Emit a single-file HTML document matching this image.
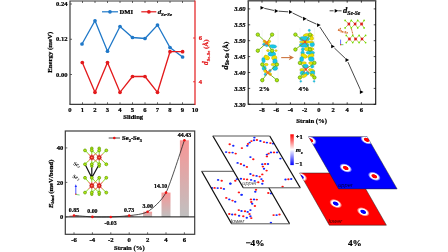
<!DOCTYPE html>
<html><head><meta charset="utf-8"><title>figure</title>
<style>html,body{margin:0;padding:0;background:#fff;}svg{display:block;filter:blur(0.3px);}text{stroke-width:0.22px;}</style>
</head><body>
<svg width="448" height="252" viewBox="0 0 448 252" style="font-family:'Liberation Serif',serif;font-weight:bold">
<defs>
<linearGradient id="bar" x1="0" y1="0" x2="0" y2="1"><stop offset="0" stop-color="#f79696"/><stop offset="1" stop-color="#c0c0c0"/></linearGradient>
<linearGradient id="cb" x1="0" y1="0" x2="0" y2="1"><stop offset="0" stop-color="#ff0000"/><stop offset="0.5" stop-color="#ffffff"/><stop offset="1" stop-color="#0000ff"/></linearGradient>
<radialGradient id="skR"><stop offset="0" stop-color="#ff0000"/><stop offset="0.36" stop-color="#ff0000"/><stop offset="0.52" stop-color="#ffffff"/><stop offset="0.64" stop-color="#ffffff"/><stop offset="1" stop-color="#ffffff" stop-opacity="0"/></radialGradient>
<radialGradient id="skB"><stop offset="0" stop-color="#0000ff"/><stop offset="0.36" stop-color="#0000ff"/><stop offset="0.52" stop-color="#ffffff"/><stop offset="0.64" stop-color="#ffffff"/><stop offset="1" stop-color="#ffffff" stop-opacity="0"/></radialGradient>
<clipPath id="clipBlue"><polygon points="308.6,136.7 367.1,136.7 397.1,188.9 338.6,188.9"/></clipPath>
<clipPath id="clipRed"><polygon points="299.6,173 356.6,173 386.4,225.2 329.3,225.2"/></clipPath>
</defs>
<rect width="448" height="252" fill="#fff"/>
<g id="panelA">
<path d="M70,104.3 L70,1 L195,1" fill="none" stroke="#3c3c3c" stroke-width="1.2"/>
<path d="M69.4,104.3 L195,104.3" fill="none" stroke="#3c3c3c" stroke-width="1.2"/>
<path d="M195,0.4 L195,104.89999999999999" fill="none" stroke="#e31a1c" stroke-width="1.2"/>
<path d="M82.5,104.3 v-2 M82.5,1 v2 M95.0,104.3 v-2 M95.0,1 v2 M107.5,104.3 v-2 M107.5,1 v2 M120.0,104.3 v-2 M120.0,1 v2 M132.5,104.3 v-2 M132.5,1 v2 M145.0,104.3 v-2 M145.0,1 v2 M157.5,104.3 v-2 M157.5,1 v2 M170.0,104.3 v-2 M170.0,1 v2 M182.5,104.3 v-2 M182.5,1 v2 M70,4 h2 M70,39.25 h2 M70,74.5 h2 " stroke="#3c3c3c" stroke-width="0.8" fill="none"/>
<path d="M195,38 h-2 M195,81.75 h-2" stroke="#e31a1c" stroke-width="0.8" fill="none"/>
<text x="67.6" y="6.2" font-size="6.6" text-anchor="end" fill="#000"  stroke="#000">0.24</text>
<text x="67.6" y="41.45" font-size="6.6" text-anchor="end" fill="#000"  stroke="#000">0.12</text>
<text x="67.6" y="76.7" font-size="6.6" text-anchor="end" fill="#000"  stroke="#000">0.00</text>
<text x="70.0" y="112" font-size="6.6" text-anchor="middle" fill="#000"  stroke="#000">0</text>
<text x="82.5" y="112" font-size="6.6" text-anchor="middle" fill="#000"  stroke="#000">1</text>
<text x="95.0" y="112" font-size="6.6" text-anchor="middle" fill="#000"  stroke="#000">2</text>
<text x="107.5" y="112" font-size="6.6" text-anchor="middle" fill="#000"  stroke="#000">3</text>
<text x="120.0" y="112" font-size="6.6" text-anchor="middle" fill="#000"  stroke="#000">4</text>
<text x="132.5" y="112" font-size="6.6" text-anchor="middle" fill="#000"  stroke="#000">5</text>
<text x="145.0" y="112" font-size="6.6" text-anchor="middle" fill="#000"  stroke="#000">6</text>
<text x="157.5" y="112" font-size="6.6" text-anchor="middle" fill="#000"  stroke="#000">7</text>
<text x="170.0" y="112" font-size="6.6" text-anchor="middle" fill="#000"  stroke="#000">8</text>
<text x="182.5" y="112" font-size="6.6" text-anchor="middle" fill="#000"  stroke="#000">9</text>
<text x="195.0" y="112" font-size="6.6" text-anchor="middle" fill="#000"  stroke="#000">10</text>
<text x="133.2" y="119.4" font-size="6.6" text-anchor="middle" fill="#000"  stroke="#000">Sliding</text>
<text x="0" y="0" font-size="6.8" text-anchor="middle" fill="#000" transform="translate(51.6,52.3) rotate(-90)" stroke="#000">Energy (meV)</text>
<text x="200.3" y="40.2" font-size="6.6" text-anchor="middle" fill="#e31a1c"  stroke="#e31a1c">6</text>
<text x="200.3" y="84" font-size="6.6" text-anchor="middle" fill="#e31a1c"  stroke="#e31a1c">4</text>
<text font-size="7.2" text-anchor="middle" fill="#e31a1c" transform="translate(208.3,52.1) rotate(-90)" stroke="#e31a1c"><tspan font-style="italic">d</tspan><tspan font-size="4.5" dy="1.3">Se-Se</tspan><tspan dy="-1.3" font-size="7"> (Å)</tspan></text>
<polyline points="82,44 95,20.75 107.5,51.25 120,26.5 132.5,37.5 145,38.5 157.5,25 170,47.5 182.6,57" fill="none" stroke="#1f78c8" stroke-width="1.3"/>
<circle cx="82" cy="44" r="1.85" fill="#1f78c8"/>
<circle cx="95" cy="20.75" r="1.85" fill="#1f78c8"/>
<circle cx="107.5" cy="51.25" r="1.85" fill="#1f78c8"/>
<circle cx="120" cy="26.5" r="1.85" fill="#1f78c8"/>
<circle cx="132.5" cy="37.5" r="1.85" fill="#1f78c8"/>
<circle cx="145" cy="38.5" r="1.85" fill="#1f78c8"/>
<circle cx="157.5" cy="25" r="1.85" fill="#1f78c8"/>
<circle cx="170" cy="47.5" r="1.85" fill="#1f78c8"/>
<circle cx="182.6" cy="57" r="1.85" fill="#1f78c8"/>
<polyline points="82.3,62.5 95,92.3 107.5,62.5 120,92.3 132.5,76.5 145,76.5 157.5,92.3 170,51.7 182.6,51.7" fill="none" stroke="#e31a1c" stroke-width="1.3"/>
<circle cx="82.3" cy="62.5" r="1.85" fill="#e31a1c"/>
<circle cx="95" cy="92.3" r="1.85" fill="#e31a1c"/>
<circle cx="107.5" cy="62.5" r="1.85" fill="#e31a1c"/>
<circle cx="120" cy="92.3" r="1.85" fill="#e31a1c"/>
<circle cx="132.5" cy="76.5" r="1.85" fill="#e31a1c"/>
<circle cx="145" cy="76.5" r="1.85" fill="#e31a1c"/>
<circle cx="157.5" cy="92.3" r="1.85" fill="#e31a1c"/>
<circle cx="170" cy="51.7" r="1.85" fill="#e31a1c"/>
<circle cx="182.6" cy="51.7" r="1.85" fill="#e31a1c"/>
<path d="M102,11.8 H118" stroke="#1f78c8" stroke-width="1.2"/><circle cx="110" cy="11.8" r="1.85" fill="#1f78c8"/>
<text x="119.6" y="13.9" font-size="6.6" text-anchor="start" fill="#000"  stroke="#000">DMI</text>
<path d="M141.3,11.8 H156.3" stroke="#e31a1c" stroke-width="1.2"/><circle cx="148.9" cy="11.8" r="1.85" fill="#e31a1c"/>
<text x="157.7" y="14" font-size="6.8" text-anchor="start" stroke="#000"><tspan font-style="italic">d</tspan><tspan font-size="4.7" dy="1.6" font-style="italic">Se-Se</tspan></text>
</g>
<g id="panelB">
<path d="M248.2,0.7 V104.3 H375.7 V0.7" fill="none" stroke="#111" stroke-width="1.1"/>
<path d="M247.64999999999998,0.7 H376.25" fill="none" stroke="#555" stroke-width="1.4"/>
<path d="M248.2,8.9 h2 M375.7,8.9 h-2 M248.2,24.8 h2 M375.7,24.8 h-2 M248.2,40.7 h2 M375.7,40.7 h-2 M248.2,56.6 h2 M375.7,56.6 h-2 M248.2,72.5 h2 M375.7,72.5 h-2 M248.2,88.4 h2 M375.7,88.4 h-2 M248.2,104.30000000000001 h2 M375.7,104.30000000000001 h-2 M262.0,104.3 v-2 M262.0,0.7 v2 M276.2,104.3 v-2 M276.2,0.7 v2 M290.4,104.3 v-2 M290.4,0.7 v2 M304.6,104.3 v-2 M304.6,0.7 v2 M318.8,104.3 v-2 M318.8,0.7 v2 M333.0,104.3 v-2 M333.0,0.7 v2 M347.2,104.3 v-2 M347.2,0.7 v2 M361.4,104.3 v-2 M361.4,0.7 v2 " stroke="#000" stroke-width="0.7" fill="none"/>
<text x="245.6" y="11.100000000000001" font-size="6.5" text-anchor="end" fill="#000" font-style="italic" stroke="#000">3.60</text>
<text x="245.6" y="27.0" font-size="6.5" text-anchor="end" fill="#000" font-style="italic" stroke="#000">3.55</text>
<text x="245.6" y="42.900000000000006" font-size="6.5" text-anchor="end" fill="#000" font-style="italic" stroke="#000">3.50</text>
<text x="245.6" y="58.800000000000004" font-size="6.5" text-anchor="end" fill="#000" font-style="italic" stroke="#000">3.45</text>
<text x="245.6" y="74.7" font-size="6.5" text-anchor="end" fill="#000" font-style="italic" stroke="#000">3.40</text>
<text x="245.6" y="90.60000000000001" font-size="6.5" text-anchor="end" fill="#000" font-style="italic" stroke="#000">3.35</text>
<text x="245.6" y="106.50000000000001" font-size="6.5" text-anchor="end" fill="#000" font-style="italic" stroke="#000">3.30</text>
<text x="262.0" y="112.3" font-size="6.5" text-anchor="middle" fill="#000"  stroke="#000">-8</text>
<text x="276.2" y="112.3" font-size="6.5" text-anchor="middle" fill="#000"  stroke="#000">-6</text>
<text x="290.4" y="112.3" font-size="6.5" text-anchor="middle" fill="#000"  stroke="#000">-4</text>
<text x="304.6" y="112.3" font-size="6.5" text-anchor="middle" fill="#000"  stroke="#000">-2</text>
<text x="318.8" y="112.3" font-size="6.5" text-anchor="middle" fill="#000"  stroke="#000">0</text>
<text x="333.0" y="112.3" font-size="6.5" text-anchor="middle" fill="#000"  stroke="#000">2</text>
<text x="347.2" y="112.3" font-size="6.5" text-anchor="middle" fill="#000"  stroke="#000">4</text>
<text x="361.4" y="112.3" font-size="6.5" text-anchor="middle" fill="#000"  stroke="#000">6</text>
<text x="311.6" y="122.7" font-size="6.7" text-anchor="middle" fill="#000"  stroke="#000">Strain (%)</text>
<text font-size="8.4" text-anchor="middle" transform="translate(227.6,55.6) rotate(-90)" stroke="#000"><tspan font-style="italic">d</tspan><tspan font-size="5.2" dy="1.6">Se-Se</tspan><tspan dy="-1.6" font-size="7"> (Å)</tspan></text>
<path d="M264.24,8.30 L274.06,10.50 M278.59,11.16 L288.21,11.84 M292.57,12.99 L302.53,17.76 M306.69,19.70 L316.51,24.15 M319.87,27.02 L331.43,44.48 M334.37,47.99 L345.33,58.41 M347.94,62.10 L360.46,89.90 " fill="none" stroke="#333" stroke-width="0.9"/>
<polygon points="260.48,5.9 264.09,7.8 260.48,9.7" fill="#000"/>
<polygon points="274.78000000000003,9.1 278.39,11 274.78000000000003,12.9" fill="#000"/>
<polygon points="288.98,10.1 292.59,12 288.98,13.9" fill="#000"/>
<polygon points="303.08000000000004,16.85 306.69,18.75 303.08000000000004,20.65" fill="#000"/>
<polygon points="317.08000000000004,23.200000000000003 320.69,25.1 317.08000000000004,27.0" fill="#000"/>
<polygon points="331.18,44.5 334.78999999999996,46.4 331.18,48.3" fill="#000"/>
<polygon points="345.48,58.1 349.09,60 345.48,61.9" fill="#000"/>
<polygon points="359.88,90.1 363.48999999999995,92 359.88,93.9" fill="#000"/>
<path d="M329.6,10.8 H333.6 M338.2,10.8 H341.6" stroke="#333" stroke-width="0.9"/>
<polygon points="334.68,8.9 338.28999999999996,10.8 334.68,12.700000000000001" fill="#000"/>
<text x="343" y="13.3" font-size="8.6" text-anchor="start" stroke="#000"><tspan font-style="italic">d</tspan><tspan font-size="5.6" dy="1.6" font-style="italic">Se-Se</tspan></text>
<path d="M262.2,30 V84 M278.1,30 V84" stroke="#ececec" stroke-width="0.5"/>
<path d="M299.9,28 V84 M314.5,28 V84" stroke="#ececec" stroke-width="0.5"/>
<ellipse cx="264.8" cy="41.7" rx="1.79" ry="1.38" fill="#f2e400" stroke="#a89c00" stroke-width="0.4" transform="rotate(30 264.8 41.7)"/>
<ellipse cx="269.2" cy="41.7" rx="1.68" ry="1.26" fill="#f2e400" stroke="#a89c00" stroke-width="0.4" transform="rotate(-30 269.2 41.7)"/>
<ellipse cx="268" cy="44.3" rx="1.79" ry="1.26" fill="#f2e400" stroke="#a89c00" stroke-width="0.4" transform="rotate(30 268 44.3)"/>
<ellipse cx="264.2" cy="44.4" rx="1.57" ry="1.26" fill="#18c8e6" stroke="#0c9cc0" stroke-width="0.4" transform="rotate(0 264.2 44.4)"/>
<ellipse cx="266.7" cy="45.6" rx="1.34" ry="1.03" fill="#18c8e6" stroke="#0c9cc0" stroke-width="0.4" transform="rotate(0 266.7 45.6)"/>
<ellipse cx="273" cy="46.4" rx="3.70" ry="1.72" fill="#18c8e6" stroke="#0c9cc0" stroke-width="0.4" transform="rotate(5 273 46.4)"/>
<ellipse cx="268" cy="50.6" rx="1.46" ry="1.03" fill="#f2e400" stroke="#a89c00" stroke-width="0.4" transform="rotate(0 268 50.6)"/>
<ellipse cx="276" cy="50.6" rx="1.23" ry="0.92" fill="#f2e400" stroke="#a89c00" stroke-width="0.4" transform="rotate(0 276 50.6)"/>
<ellipse cx="271.8" cy="54" rx="3.92" ry="2.18" fill="#18c8e6" stroke="#0c9cc0" stroke-width="0.4" transform="rotate(0 271.8 54)"/>
<ellipse cx="266.7" cy="57.6" rx="3.02" ry="2.07" fill="#f2e400" stroke="#a89c00" stroke-width="0.4" transform="rotate(30 266.7 57.6)"/>
<ellipse cx="274.3" cy="57.8" rx="2.69" ry="2.18" fill="#f2e400" stroke="#a89c00" stroke-width="0.4" transform="rotate(-20 274.3 57.8)"/>
<ellipse cx="263.5" cy="60.2" rx="1.68" ry="2.64" fill="#18c8e6" stroke="#0c9cc0" stroke-width="0.4" transform="rotate(-10 263.5 60.2)"/>
<ellipse cx="275" cy="61.3" rx="2.24" ry="2.53" fill="#18c8e6" stroke="#0c9cc0" stroke-width="0.4" transform="rotate(10 275 61.3)"/>
<ellipse cx="266.2" cy="64.6" rx="1.90" ry="1.26" fill="#f2e400" stroke="#a89c00" stroke-width="0.4" transform="rotate(0 266.2 64.6)"/>
<ellipse cx="273" cy="64.6" rx="1.90" ry="1.26" fill="#f2e400" stroke="#a89c00" stroke-width="0.4" transform="rotate(0 273 64.6)"/>
<ellipse cx="264.2" cy="68.2" rx="2.02" ry="2.30" fill="#18c8e6" stroke="#0c9cc0" stroke-width="0.4" transform="rotate(0 264.2 68.2)"/>
<ellipse cx="275" cy="68.2" rx="2.58" ry="2.18" fill="#18c8e6" stroke="#0c9cc0" stroke-width="0.4" transform="rotate(0 275 68.2)"/>
<ellipse cx="265.4" cy="71.3" rx="1.79" ry="1.38" fill="#f2e400" stroke="#a89c00" stroke-width="0.4" transform="rotate(30 265.4 71.3)"/>
<ellipse cx="269.9" cy="73.9" rx="1.79" ry="1.38" fill="#f2e400" stroke="#a89c00" stroke-width="0.4" transform="rotate(30 269.9 73.9)"/>
<ellipse cx="265.4" cy="74.5" rx="1.34" ry="1.15" fill="#18c8e6" stroke="#0c9cc0" stroke-width="0.4" transform="rotate(0 265.4 74.5)"/>
<ellipse cx="270" cy="70.7" rx="1.34" ry="1.15" fill="#18c8e6" stroke="#0c9cc0" stroke-width="0.4" transform="rotate(0 270 70.7)"/>
<path d="M266.7,43 L263.32,39.81" stroke="#e8401a" stroke-width="0.8"/><path d="M263.32,39.81 L257.8,34.6" stroke="#6cbc00" stroke-width="0.9"/>
<path d="M266.7,43 L268.75,39.81" stroke="#e8401a" stroke-width="0.8"/><path d="M268.75,39.81 L272.1,34.6" stroke="#6cbc00" stroke-width="0.9"/>
<path d="M266.7,43 L263.32,45.93" stroke="#e8401a" stroke-width="0.8"/><path d="M263.32,45.93 L257.8,50.7" stroke="#6cbc00" stroke-width="0.9"/>
<path d="M266.7,43 L268.75,45.93" stroke="#e8401a" stroke-width="0.8"/><path d="M268.75,45.93 L272.1,50.7" stroke="#6cbc00" stroke-width="0.9"/>
<path d="M267.8,72.6 L265.71,69.52" stroke="#e8401a" stroke-width="0.8"/><path d="M265.71,69.52 L262.3,64.5" stroke="#6cbc00" stroke-width="0.9"/>
<path d="M267.8,72.6 L271.26,69.52" stroke="#e8401a" stroke-width="0.8"/><path d="M271.26,69.52 L276.9,64.5" stroke="#6cbc00" stroke-width="0.9"/>
<path d="M267.8,72.6 L265.71,75.49" stroke="#e8401a" stroke-width="0.8"/><path d="M265.71,75.49 L262.3,80.2" stroke="#6cbc00" stroke-width="0.9"/>
<path d="M267.8,72.6 L271.26,75.49" stroke="#e8401a" stroke-width="0.8"/><path d="M271.26,75.49 L276.9,80.2" stroke="#6cbc00" stroke-width="0.9"/>
<circle cx="266.7" cy="43" r="1.4" fill="#f07818"/><circle cx="267.8" cy="72.6" r="1.4" fill="#f07818"/>
<circle cx="257.8" cy="34.6" r="1.7" fill="#b4ea10" stroke="#5a9a00" stroke-width="0.7"/>
<circle cx="272.1" cy="34.6" r="1.7" fill="#b4ea10" stroke="#5a9a00" stroke-width="0.7"/>
<circle cx="257.8" cy="50.7" r="1.7" fill="#b4ea10" stroke="#5a9a00" stroke-width="0.7"/>
<circle cx="272.1" cy="50.7" r="1.7" fill="#b4ea10" stroke="#5a9a00" stroke-width="0.7"/>
<circle cx="262.3" cy="64.5" r="1.7" fill="#b4ea10" stroke="#5a9a00" stroke-width="0.7"/>
<circle cx="276.9" cy="64.5" r="1.7" fill="#b4ea10" stroke="#5a9a00" stroke-width="0.7"/>
<circle cx="262.3" cy="80.2" r="1.7" fill="#b4ea10" stroke="#5a9a00" stroke-width="0.7"/>
<circle cx="276.9" cy="80.2" r="1.7" fill="#b4ea10" stroke="#5a9a00" stroke-width="0.7"/>
<text x="264.5" y="90.8" font-size="7" text-anchor="middle" fill="#000"  stroke="#000">2%</text>
<path d="M281.2,57.6 H291" stroke="#cd7540" stroke-width="1.1"/><path d="M288.8,55 L294,57.6 L288.8,60.2 L290.2,57.6 Z" fill="#cd7540"/>
<ellipse cx="309.3" cy="30.4" rx="1.12" ry="1.03" fill="#18c8e6" stroke="#0c9cc0" stroke-width="0.4" transform="rotate(0 309.3 30.4)"/>
<ellipse cx="305.9" cy="35.1" rx="2.80" ry="1.38" fill="#f2e400" stroke="#a89c00" stroke-width="0.4" transform="rotate(-20 305.9 35.1)"/>
<ellipse cx="311.2" cy="35.6" rx="2.02" ry="1.49" fill="#f2e400" stroke="#a89c00" stroke-width="0.4" transform="rotate(0 311.2 35.6)"/>
<ellipse cx="304.6" cy="38.7" rx="5.04" ry="2.30" fill="#18c8e6" stroke="#0c9cc0" stroke-width="0.4" transform="rotate(0 304.6 38.7)"/>
<ellipse cx="311.8" cy="38.4" rx="1.79" ry="1.84" fill="#f2e400" stroke="#a89c00" stroke-width="0.4" transform="rotate(0 311.8 38.4)"/>
<ellipse cx="304.2" cy="45" rx="4.70" ry="2.30" fill="#18c8e6" stroke="#0c9cc0" stroke-width="0.4" transform="rotate(0 304.2 45)"/>
<ellipse cx="312.2" cy="44.4" rx="2.24" ry="2.30" fill="#18c8e6" stroke="#0c9cc0" stroke-width="0.4" transform="rotate(0 312.2 44.4)"/>
<ellipse cx="306.5" cy="41.9" rx="7.06" ry="1.03" fill="#f2e400" stroke="#a89c00" stroke-width="0.4" transform="rotate(0 306.5 41.9)"/>
<ellipse cx="309" cy="49.1" rx="4.93" ry="1.84" fill="#f2e400" stroke="#a89c00" stroke-width="0.4" transform="rotate(0 309 49.1)"/>
<ellipse cx="302.8" cy="49.4" rx="1.46" ry="1.49" fill="#18c8e6" stroke="#0c9cc0" stroke-width="0.4" transform="rotate(0 302.8 49.4)"/>
<ellipse cx="310.3" cy="52.7" rx="4.26" ry="1.61" fill="#18c8e6" stroke="#0c9cc0" stroke-width="0.4" transform="rotate(0 310.3 52.7)"/>
<ellipse cx="302.6" cy="52.8" rx="1.79" ry="1.84" fill="#18c8e6" stroke="#0c9cc0" stroke-width="0.4" transform="rotate(0 302.6 52.8)"/>
<ellipse cx="304" cy="55.9" rx="3.36" ry="1.95" fill="#f2e400" stroke="#a89c00" stroke-width="0.4" transform="rotate(25 304 55.9)"/>
<ellipse cx="310.8" cy="56" rx="3.36" ry="1.95" fill="#f2e400" stroke="#a89c00" stroke-width="0.4" transform="rotate(-25 310.8 56)"/>
<ellipse cx="301.7" cy="59.1" rx="2.02" ry="2.53" fill="#18c8e6" stroke="#0c9cc0" stroke-width="0.4" transform="rotate(0 301.7 59.1)"/>
<ellipse cx="311.3" cy="59.1" rx="2.80" ry="2.30" fill="#18c8e6" stroke="#0c9cc0" stroke-width="0.4" transform="rotate(0 311.3 59.1)"/>
<ellipse cx="304" cy="63.1" rx="2.46" ry="1.38" fill="#f2e400" stroke="#a89c00" stroke-width="0.4" transform="rotate(0 304 63.1)"/>
<ellipse cx="311" cy="63.1" rx="2.46" ry="1.38" fill="#f2e400" stroke="#a89c00" stroke-width="0.4" transform="rotate(0 311 63.1)"/>
<ellipse cx="305.5" cy="66.4" rx="2.91" ry="2.07" fill="#18c8e6" stroke="#0c9cc0" stroke-width="0.4" transform="rotate(0 305.5 66.4)"/>
<ellipse cx="312.2" cy="66.4" rx="1.57" ry="1.61" fill="#18c8e6" stroke="#0c9cc0" stroke-width="0.4" transform="rotate(0 312.2 66.4)"/>
<ellipse cx="302" cy="69.9" rx="2.24" ry="1.38" fill="#f2e400" stroke="#a89c00" stroke-width="0.4" transform="rotate(0 302 69.9)"/>
<ellipse cx="311.6" cy="70.5" rx="3.36" ry="1.49" fill="#f2e400" stroke="#a89c00" stroke-width="0.4" transform="rotate(20 311.6 70.5)"/>
<ellipse cx="302.7" cy="73" rx="2.58" ry="2.07" fill="#18c8e6" stroke="#0c9cc0" stroke-width="0.4" transform="rotate(0 302.7 73)"/>
<ellipse cx="307.3" cy="73.2" rx="1.79" ry="1.72" fill="#18c8e6" stroke="#0c9cc0" stroke-width="0.4" transform="rotate(0 307.3 73.2)"/>
<ellipse cx="312.6" cy="73" rx="2.24" ry="2.30" fill="#18c8e6" stroke="#0c9cc0" stroke-width="0.4" transform="rotate(0 312.6 73)"/>
<ellipse cx="304.6" cy="75.8" rx="2.80" ry="1.38" fill="#f2e400" stroke="#a89c00" stroke-width="0.4" transform="rotate(-30 304.6 75.8)"/>
<ellipse cx="312.2" cy="75.2" rx="1.90" ry="1.38" fill="#f2e400" stroke="#a89c00" stroke-width="0.4" transform="rotate(0 312.2 75.2)"/>
<ellipse cx="300.8" cy="81.3" rx="0.90" ry="0.92" fill="#18c8e6" stroke="#0c9cc0" stroke-width="0.4" transform="rotate(0 300.8 81.3)"/>
<ellipse cx="314.1" cy="81.3" rx="0.90" ry="0.92" fill="#18c8e6" stroke="#0c9cc0" stroke-width="0.4" transform="rotate(0 314.1 81.3)"/>
<path d="M305.2,41.9 L301.48,39.13" stroke="#e8401a" stroke-width="0.8"/><path d="M301.48,39.13 L295.4,34.6" stroke="#6cbc00" stroke-width="0.9"/>
<path d="M305.2,41.9 L307.02,39.13" stroke="#e8401a" stroke-width="0.8"/><path d="M307.02,39.13 L310,34.6" stroke="#6cbc00" stroke-width="0.9"/>
<path d="M305.2,41.9 L301.48,44.79" stroke="#e8401a" stroke-width="0.8"/><path d="M301.48,44.79 L295.4,49.5" stroke="#6cbc00" stroke-width="0.9"/>
<path d="M305.2,41.9 L307.02,44.79" stroke="#e8401a" stroke-width="0.8"/><path d="M307.02,44.79 L310,49.5" stroke="#6cbc00" stroke-width="0.9"/>
<path d="M305.7,69.4 L303.50,66.93" stroke="#e8401a" stroke-width="0.8"/><path d="M303.50,66.93 L299.9,62.9" stroke="#6cbc00" stroke-width="0.9"/>
<path d="M305.7,69.4 L309.01,66.93" stroke="#e8401a" stroke-width="0.8"/><path d="M309.01,66.93 L314.4,62.9" stroke="#6cbc00" stroke-width="0.9"/>
<path d="M305.7,69.4 L303.50,72.48" stroke="#e8401a" stroke-width="0.8"/><path d="M303.50,72.48 L299.9,77.5" stroke="#6cbc00" stroke-width="0.9"/>
<path d="M305.7,69.4 L309.01,72.48" stroke="#e8401a" stroke-width="0.8"/><path d="M309.01,72.48 L314.4,77.5" stroke="#6cbc00" stroke-width="0.9"/>
<circle cx="305.2" cy="41.9" r="1.1" fill="#f04818"/><circle cx="305.7" cy="69.4" r="1.2" fill="#f04818"/>
<circle cx="295.4" cy="34.6" r="1.7" fill="#b4ea10" stroke="#5a9a00" stroke-width="0.7"/>
<circle cx="310" cy="34.6" r="1.7" fill="#b4ea10" stroke="#5a9a00" stroke-width="0.7"/>
<circle cx="295.4" cy="49.5" r="1.7" fill="#b4ea10" stroke="#5a9a00" stroke-width="0.7"/>
<circle cx="310" cy="49.5" r="1.7" fill="#b4ea10" stroke="#5a9a00" stroke-width="0.7"/>
<circle cx="299.9" cy="62.9" r="1.7" fill="#b4ea10" stroke="#5a9a00" stroke-width="0.7"/>
<circle cx="314.4" cy="62.9" r="1.7" fill="#b4ea10" stroke="#5a9a00" stroke-width="0.7"/>
<circle cx="299.9" cy="77.5" r="1.7" fill="#b4ea10" stroke="#5a9a00" stroke-width="0.7"/>
<circle cx="314.4" cy="77.5" r="1.7" fill="#b4ea10" stroke="#5a9a00" stroke-width="0.7"/>
<text x="303.7" y="90.8" font-size="7" text-anchor="middle" fill="#000"  stroke="#000">4%</text>
<path d="M348.9,24 L347.0,22.2" stroke="#e04020" stroke-width="0.7"/><path d="M347.0,22.2 L345.1,20.4" stroke="#78d800" stroke-width="0.7"/>
<path d="M348.9,24 L347.0,25.95" stroke="#e04020" stroke-width="0.7"/><path d="M347.0,25.95 L345.1,27.9" stroke="#78d800" stroke-width="0.7"/>
<path d="M348.9,24 L350.1,22.2" stroke="#e04020" stroke-width="0.7"/><path d="M350.1,22.2 L351.3,20.4" stroke="#78d800" stroke-width="0.7"/>
<path d="M348.9,24 L350.1,25.95" stroke="#e04020" stroke-width="0.7"/><path d="M350.1,25.95 L351.3,27.9" stroke="#78d800" stroke-width="0.7"/>
<path d="M355.1,24 L353.20000000000005,22.2" stroke="#e04020" stroke-width="0.7"/><path d="M353.20000000000005,22.2 L351.3,20.4" stroke="#78d800" stroke-width="0.7"/>
<path d="M355.1,24 L353.20000000000005,25.95" stroke="#e04020" stroke-width="0.7"/><path d="M353.20000000000005,25.95 L351.3,27.9" stroke="#78d800" stroke-width="0.7"/>
<path d="M355.1,24 L356.4,22.2" stroke="#e04020" stroke-width="0.7"/><path d="M356.4,22.2 L357.7,20.4" stroke="#78d800" stroke-width="0.7"/>
<path d="M355.1,24 L356.4,25.95" stroke="#e04020" stroke-width="0.7"/><path d="M356.4,25.95 L357.7,27.9" stroke="#78d800" stroke-width="0.7"/>
<path d="M361.6,24 L359.65,22.2" stroke="#e04020" stroke-width="0.7"/><path d="M359.65,22.2 L357.7,20.4" stroke="#78d800" stroke-width="0.7"/>
<path d="M361.6,24 L359.65,25.95" stroke="#e04020" stroke-width="0.7"/><path d="M359.65,25.95 L357.7,27.9" stroke="#78d800" stroke-width="0.7"/>
<path d="M361.6,24 L362.85,22.2" stroke="#e04020" stroke-width="0.7"/><path d="M362.85,22.2 L364.1,20.4" stroke="#78d800" stroke-width="0.7"/>
<path d="M361.6,24 L362.85,25.95" stroke="#e04020" stroke-width="0.7"/><path d="M362.85,25.95 L364.1,27.9" stroke="#78d800" stroke-width="0.7"/>
<circle cx="345.1" cy="20.4" r="0.85" fill="#78d800"/>
<circle cx="345.1" cy="27.9" r="0.85" fill="#78d800"/>
<circle cx="351.3" cy="20.4" r="0.85" fill="#78d800"/>
<circle cx="351.3" cy="27.9" r="0.85" fill="#78d800"/>
<circle cx="357.7" cy="20.4" r="0.85" fill="#78d800"/>
<circle cx="357.7" cy="27.9" r="0.85" fill="#78d800"/>
<circle cx="364.1" cy="20.4" r="0.85" fill="#78d800"/>
<circle cx="364.1" cy="27.9" r="0.85" fill="#78d800"/>
<circle cx="348.9" cy="24" r="1.2" fill="#e8201a" stroke="#b01010" stroke-width="0.3"/>
<circle cx="355.1" cy="24" r="1.2" fill="#e8201a" stroke="#b01010" stroke-width="0.3"/>
<circle cx="361.6" cy="24" r="1.2" fill="#e8201a" stroke="#b01010" stroke-width="0.3"/>
<path d="M349.4,39 L347.85,37.2" stroke="#e04020" stroke-width="0.7"/><path d="M347.85,37.2 L346.3,35.4" stroke="#78d800" stroke-width="0.7"/>
<path d="M349.4,39 L347.85,40.8" stroke="#e04020" stroke-width="0.7"/><path d="M347.85,40.8 L346.3,42.6" stroke="#78d800" stroke-width="0.7"/>
<path d="M349.4,39 L351.04999999999995,37.2" stroke="#e04020" stroke-width="0.7"/><path d="M351.04999999999995,37.2 L352.7,35.4" stroke="#78d800" stroke-width="0.7"/>
<path d="M349.4,39 L351.04999999999995,40.8" stroke="#e04020" stroke-width="0.7"/><path d="M351.04999999999995,40.8 L352.7,42.6" stroke="#78d800" stroke-width="0.7"/>
<path d="M355.6,39 L354.15,37.2" stroke="#e04020" stroke-width="0.7"/><path d="M354.15,37.2 L352.7,35.4" stroke="#78d800" stroke-width="0.7"/>
<path d="M355.6,39 L354.15,40.8" stroke="#e04020" stroke-width="0.7"/><path d="M354.15,40.8 L352.7,42.6" stroke="#78d800" stroke-width="0.7"/>
<path d="M355.6,39 L357.35,37.2" stroke="#e04020" stroke-width="0.7"/><path d="M357.35,37.2 L359.1,35.4" stroke="#78d800" stroke-width="0.7"/>
<path d="M355.6,39 L357.35,40.8" stroke="#e04020" stroke-width="0.7"/><path d="M357.35,40.8 L359.1,42.6" stroke="#78d800" stroke-width="0.7"/>
<path d="M362,39 L360.55,37.2" stroke="#e04020" stroke-width="0.7"/><path d="M360.55,37.2 L359.1,35.4" stroke="#78d800" stroke-width="0.7"/>
<path d="M362,39 L360.55,40.8" stroke="#e04020" stroke-width="0.7"/><path d="M360.55,40.8 L359.1,42.6" stroke="#78d800" stroke-width="0.7"/>
<path d="M362,39 L363.8,37.2" stroke="#e04020" stroke-width="0.7"/><path d="M363.8,37.2 L365.6,35.4" stroke="#78d800" stroke-width="0.7"/>
<path d="M362,39 L363.8,40.8" stroke="#e04020" stroke-width="0.7"/><path d="M363.8,40.8 L365.6,42.6" stroke="#78d800" stroke-width="0.7"/>
<circle cx="346.3" cy="35.4" r="0.85" fill="#78d800"/>
<circle cx="346.3" cy="42.6" r="0.85" fill="#78d800"/>
<circle cx="352.7" cy="35.4" r="0.85" fill="#78d800"/>
<circle cx="352.7" cy="42.6" r="0.85" fill="#78d800"/>
<circle cx="359.1" cy="35.4" r="0.85" fill="#78d800"/>
<circle cx="359.1" cy="42.6" r="0.85" fill="#78d800"/>
<circle cx="365.6" cy="35.4" r="0.85" fill="#78d800"/>
<circle cx="365.6" cy="42.6" r="0.85" fill="#78d800"/>
<circle cx="349.4" cy="39" r="1.2" fill="#e8201a" stroke="#b01010" stroke-width="0.3"/>
<circle cx="355.6" cy="39" r="1.2" fill="#e8201a" stroke="#b01010" stroke-width="0.3"/>
<circle cx="362" cy="39" r="1.2" fill="#e8201a" stroke="#b01010" stroke-width="0.3"/>
<path d="M351.4,28.6 L352.9,34.6" stroke="#d2601a" stroke-width="1" stroke-dasharray="1.3,0.5"/>
<text font-size="5" fill="#d2601a" text-anchor="middle" style="stroke-width:0.1px" transform="translate(342.8,31.8) rotate(13)" stroke="#d2601a"><tspan font-style="italic">d</tspan><tspan font-size="3.3" dy="0.9">Se-Se</tspan></text>
<path d="M340.6,44.4 V39.6" stroke="#2030ff" stroke-width="0.7"/><path d="M340.6,44.7 H343.4" stroke="#20c020" stroke-width="0.7"/><circle cx="340.6" cy="44.7" r="0.6" fill="#f02020"/>
</g>
<g id="panelC">
<rect x="69.5" y="215.43375" width="9" height="1.46625" fill="url(#bar)"/>
<rect x="124.69999999999999" y="215.64075" width="9" height="1.25925" fill="url(#bar)"/>
<rect x="143.1" y="211.725" width="9" height="5.175000000000001" fill="url(#bar)"/>
<rect x="161.5" y="192.57750000000001" width="9" height="24.3225" fill="url(#bar)"/>
<rect x="179.89999999999998" y="140.25825" width="9" height="76.64175" fill="url(#bar)"/>
<rect x="65.3" y="131" width="129.39999999999998" height="103.30000000000001" fill="none" stroke="#3c3c3c" stroke-width="1.2"/>
<path d="M65.3,216.9 H194.7" stroke="#111" stroke-width="1"/>
<path d="M74.0,234.3 v-2 M92.4,234.3 v-2 M110.8,234.3 v-2 M129.2,234.3 v-2 M147.6,234.3 v-2 M166.0,234.3 v-2 M184.39999999999998,234.3 v-2 M65.3,147.9 h2 M65.3,182.4 h2 M65.3,216.9 h2 " stroke="#3c3c3c" stroke-width="0.8" fill="none"/>
<text x="63.3" y="150.1" font-size="6.6" text-anchor="end" fill="#000"  stroke="#000">40</text>
<text x="63.3" y="184.6" font-size="6.6" text-anchor="end" fill="#000"  stroke="#000">20</text>
<text x="63.3" y="219.1" font-size="6.6" text-anchor="end" fill="#000"  stroke="#000">0</text>
<text x="74.0" y="242.2" font-size="6.7" text-anchor="middle" fill="#000"  stroke="#000">-6</text>
<text x="92.4" y="242.2" font-size="6.7" text-anchor="middle" fill="#000"  stroke="#000">-4</text>
<text x="110.8" y="242.2" font-size="6.7" text-anchor="middle" fill="#000"  stroke="#000">-2</text>
<text x="129.2" y="242.2" font-size="6.7" text-anchor="middle" fill="#000"  stroke="#000">0</text>
<text x="147.6" y="242.2" font-size="6.7" text-anchor="middle" fill="#000"  stroke="#000">2</text>
<text x="166.0" y="242.2" font-size="6.7" text-anchor="middle" fill="#000"  stroke="#000">4</text>
<text x="184.39999999999998" y="242.2" font-size="6.7" text-anchor="middle" fill="#000"  stroke="#000">6</text>
<text x="129.3" y="249.9" font-size="6.7" text-anchor="middle" fill="#000"  stroke="#000">Strain (%)</text>
<text font-size="6.7" text-anchor="middle" transform="translate(52.9,183.7) rotate(-90)" stroke="#000"><tspan font-style="italic">E</tspan><tspan font-size="4.4" dy="1.4" font-style="italic">bind</tspan><tspan dy="-1.4" font-size="6.7"> (meV/bond)</tspan></text>
<path d="M74.00,215.43 C76.21,215.61 87.98,216.72 92.40,216.90 C96.82,217.08 106.38,217.10 110.80,216.95 C115.22,216.80 124.78,216.27 129.20,215.64 C133.62,215.01 143.18,214.49 147.60,211.72 C152.02,208.96 161.58,201.15 166.00,192.58 C170.42,184.00 182.19,146.54 184.40,140.26 " fill="none" stroke="#222" stroke-width="0.8"/>
<circle cx="74.00" cy="215.43" r="1.3" fill="#f01010"/>
<circle cx="92.40" cy="216.90" r="1.3" fill="#f01010"/>
<circle cx="110.80" cy="216.95" r="1.3" fill="#f01010"/>
<circle cx="129.20" cy="215.64" r="1.3" fill="#f01010"/>
<circle cx="147.60" cy="211.72" r="1.3" fill="#f01010"/>
<circle cx="166.00" cy="192.58" r="1.3" fill="#f01010"/>
<circle cx="184.40" cy="140.26" r="1.3" fill="#f01010"/>
<text x="74" y="211.9" font-size="5.9" text-anchor="middle" fill="#000"  stroke="#000">0.85</text>
<text x="92.4" y="212.9" font-size="5.9" text-anchor="middle" fill="#000"  stroke="#000">0.00</text>
<text x="110.6" y="225.3" font-size="5.9" text-anchor="middle" fill="#000"  stroke="#000">-0.03</text>
<text x="129.1" y="211.9" font-size="5.9" text-anchor="middle" fill="#000"  stroke="#000">0.73</text>
<text x="147.7" y="208.20000000000002" font-size="5.9" text-anchor="middle" fill="#000"  stroke="#000">3.00</text>
<text x="160.7" y="187.8" font-size="5.9" text-anchor="middle" fill="#000"  stroke="#000">14.10</text>
<text x="184.5" y="136.70000000000002" font-size="5.9" text-anchor="middle" fill="#000"  stroke="#000">44.43</text>
<path d="M108.7,138 H120" stroke="#222" stroke-width="0.8"/><circle cx="114.3" cy="138" r="1.3" fill="#f01010"/>
<text x="122" y="140.2" font-size="6.7" text-anchor="start" stroke="#000">Se<tspan font-size="4.4" dy="1.4">2</tspan><tspan dy="-1.4" font-size="6.7">-Se</tspan><tspan font-size="4.4" dy="1.4">3</tspan></text>
<path d="M91.8,157.5 L88.4,153.85" stroke="#e04020" stroke-width="0.9"/><path d="M88.4,153.85 L85,150.2" stroke="#78d800" stroke-width="0.9"/>
<path d="M91.8,157.5 L88.4,160.9" stroke="#e04020" stroke-width="0.9"/><path d="M88.4,160.9 L85,164.3" stroke="#78d800" stroke-width="0.9"/>
<path d="M91.8,157.5 L91.8,153.85" stroke="#e04020" stroke-width="0.9"/><path d="M91.8,153.85 L91.8,150.2" stroke="#78d800" stroke-width="0.9"/>
<path d="M91.8,157.5 L91.8,160.9" stroke="#e04020" stroke-width="0.9"/><path d="M91.8,160.9 L91.8,164.3" stroke="#78d800" stroke-width="0.9"/>
<path d="M91.8,157.5 L95.5,153.85" stroke="#e04020" stroke-width="0.9"/><path d="M95.5,153.85 L99.2,150.2" stroke="#78d800" stroke-width="0.9"/>
<path d="M91.8,157.5 L95.5,160.9" stroke="#e04020" stroke-width="0.9"/><path d="M95.5,160.9 L99.2,164.3" stroke="#78d800" stroke-width="0.9"/>
<path d="M99.2,157.5 L95.5,153.85" stroke="#e04020" stroke-width="0.9"/><path d="M95.5,153.85 L91.8,150.2" stroke="#78d800" stroke-width="0.9"/>
<path d="M99.2,157.5 L95.5,160.9" stroke="#e04020" stroke-width="0.9"/><path d="M95.5,160.9 L91.8,164.3" stroke="#78d800" stroke-width="0.9"/>
<path d="M99.2,157.5 L99.2,153.85" stroke="#e04020" stroke-width="0.9"/><path d="M99.2,153.85 L99.2,150.2" stroke="#78d800" stroke-width="0.9"/>
<path d="M99.2,157.5 L99.2,160.9" stroke="#e04020" stroke-width="0.9"/><path d="M99.2,160.9 L99.2,164.3" stroke="#78d800" stroke-width="0.9"/>
<path d="M99.2,157.5 L102.75,153.85" stroke="#e04020" stroke-width="0.9"/><path d="M102.75,153.85 L106.3,150.2" stroke="#78d800" stroke-width="0.9"/>
<path d="M99.2,157.5 L102.75,160.9" stroke="#e04020" stroke-width="0.9"/><path d="M102.75,160.9 L106.3,164.3" stroke="#78d800" stroke-width="0.9"/>
<path d="M91.8,185.7 L88.4,181.75" stroke="#e04020" stroke-width="0.9"/><path d="M88.4,181.75 L85,177.8" stroke="#78d800" stroke-width="0.9"/>
<path d="M91.8,185.7 L88.4,189.14999999999998" stroke="#e04020" stroke-width="0.9"/><path d="M88.4,189.14999999999998 L85,192.6" stroke="#78d800" stroke-width="0.9"/>
<path d="M91.8,185.7 L91.8,181.75" stroke="#e04020" stroke-width="0.9"/><path d="M91.8,181.75 L91.8,177.8" stroke="#78d800" stroke-width="0.9"/>
<path d="M91.8,185.7 L91.8,189.14999999999998" stroke="#e04020" stroke-width="0.9"/><path d="M91.8,189.14999999999998 L91.8,192.6" stroke="#78d800" stroke-width="0.9"/>
<path d="M91.8,185.7 L95.5,181.75" stroke="#e04020" stroke-width="0.9"/><path d="M95.5,181.75 L99.2,177.8" stroke="#78d800" stroke-width="0.9"/>
<path d="M91.8,185.7 L95.5,189.14999999999998" stroke="#e04020" stroke-width="0.9"/><path d="M95.5,189.14999999999998 L99.2,192.6" stroke="#78d800" stroke-width="0.9"/>
<path d="M99.2,185.7 L95.5,181.75" stroke="#e04020" stroke-width="0.9"/><path d="M95.5,181.75 L91.8,177.8" stroke="#78d800" stroke-width="0.9"/>
<path d="M99.2,185.7 L95.5,189.14999999999998" stroke="#e04020" stroke-width="0.9"/><path d="M95.5,189.14999999999998 L91.8,192.6" stroke="#78d800" stroke-width="0.9"/>
<path d="M99.2,185.7 L99.2,181.75" stroke="#e04020" stroke-width="0.9"/><path d="M99.2,181.75 L99.2,177.8" stroke="#78d800" stroke-width="0.9"/>
<path d="M99.2,185.7 L99.2,189.14999999999998" stroke="#e04020" stroke-width="0.9"/><path d="M99.2,189.14999999999998 L99.2,192.6" stroke="#78d800" stroke-width="0.9"/>
<path d="M99.2,185.7 L102.75,181.75" stroke="#e04020" stroke-width="0.9"/><path d="M102.75,181.75 L106.3,177.8" stroke="#78d800" stroke-width="0.9"/>
<path d="M99.2,185.7 L102.75,189.14999999999998" stroke="#e04020" stroke-width="0.9"/><path d="M102.75,189.14999999999998 L106.3,192.6" stroke="#78d800" stroke-width="0.9"/>
<path d="M91.8,177.8 L85,164.3 M91.8,177.8 L91.8,164.3 M91.8,177.8 L99.2,164.3" stroke="#111" stroke-width="1.2" fill="none"/>
<circle cx="91.8" cy="148.3" r="1.3" fill="#b4ea10" stroke="#5a9a00" stroke-width="0.7"/>
<circle cx="91.8" cy="166.2" r="1.2" fill="#b4ea10" stroke="#5a9a00" stroke-width="0.7"/>
<circle cx="91.8" cy="194.4" r="1.2" fill="#b4ea10" stroke="#5a9a00" stroke-width="0.7"/>
<circle cx="99.2" cy="148.3" r="1.3" fill="#b4ea10" stroke="#5a9a00" stroke-width="0.7"/>
<circle cx="99.2" cy="166.2" r="1.2" fill="#b4ea10" stroke="#5a9a00" stroke-width="0.7"/>
<circle cx="99.2" cy="194.4" r="1.2" fill="#b4ea10" stroke="#5a9a00" stroke-width="0.7"/>
<circle cx="85" cy="150.4" r="1.45" fill="#b4ea10" stroke="#5a9a00" stroke-width="0.7"/>
<circle cx="91.8" cy="150.4" r="1.45" fill="#b4ea10" stroke="#5a9a00" stroke-width="0.7"/>
<circle cx="99.2" cy="150.4" r="1.45" fill="#b4ea10" stroke="#5a9a00" stroke-width="0.7"/>
<circle cx="106.3" cy="150.4" r="1.45" fill="#b4ea10" stroke="#5a9a00" stroke-width="0.7"/>
<circle cx="85" cy="164.3" r="1.45" fill="#b4ea10" stroke="#5a9a00" stroke-width="0.7"/>
<circle cx="91.8" cy="164.3" r="1.45" fill="#b4ea10" stroke="#5a9a00" stroke-width="0.7"/>
<circle cx="99.2" cy="164.3" r="1.45" fill="#b4ea10" stroke="#5a9a00" stroke-width="0.7"/>
<circle cx="106.3" cy="164.3" r="1.45" fill="#b4ea10" stroke="#5a9a00" stroke-width="0.7"/>
<circle cx="85" cy="177.8" r="1.45" fill="#b4ea10" stroke="#5a9a00" stroke-width="0.7"/>
<circle cx="91.8" cy="177.8" r="1.45" fill="#b4ea10" stroke="#5a9a00" stroke-width="0.7"/>
<circle cx="99.2" cy="177.8" r="1.45" fill="#b4ea10" stroke="#5a9a00" stroke-width="0.7"/>
<circle cx="106.3" cy="177.8" r="1.45" fill="#b4ea10" stroke="#5a9a00" stroke-width="0.7"/>
<circle cx="85" cy="192.6" r="1.45" fill="#b4ea10" stroke="#5a9a00" stroke-width="0.7"/>
<circle cx="91.8" cy="192.6" r="1.45" fill="#b4ea10" stroke="#5a9a00" stroke-width="0.7"/>
<circle cx="99.2" cy="192.6" r="1.45" fill="#b4ea10" stroke="#5a9a00" stroke-width="0.7"/>
<circle cx="106.3" cy="192.6" r="1.45" fill="#b4ea10" stroke="#5a9a00" stroke-width="0.7"/>
<circle cx="91.8" cy="157.5" r="2.1" fill="#e8201a" stroke="#a01010" stroke-width="0.5"/><circle cx="91.8" cy="157.5" r="0.75" fill="#ff9a70"/>
<circle cx="99.2" cy="157.5" r="2.1" fill="#e8201a" stroke="#a01010" stroke-width="0.5"/><circle cx="99.2" cy="157.5" r="0.75" fill="#ff9a70"/>
<circle cx="91.8" cy="185.7" r="2.1" fill="#e8201a" stroke="#a01010" stroke-width="0.5"/><circle cx="91.8" cy="185.7" r="0.75" fill="#ff9a70"/>
<circle cx="99.2" cy="185.7" r="2.1" fill="#e8201a" stroke="#a01010" stroke-width="0.5"/><circle cx="99.2" cy="185.7" r="0.75" fill="#ff9a70"/>
<text x="76.9" y="166.2" font-size="5.4" font-style="italic" text-anchor="middle" style="stroke-width:0" transform="rotate(22 76.9 164.4)" stroke="#000">Se<tspan font-size="3.5" dy="1">3</tspan></text>
<text x="76.3" y="178.9" font-size="5.4" font-style="italic" text-anchor="middle" style="stroke-width:0" transform="rotate(22 76.3 177.1)" stroke="#000">Se<tspan font-size="3.5" dy="1">2</tspan></text>
<path d="M75.8,194 V186" stroke="#2030ff" stroke-width="0.8"/><path d="M74.6,187 L75.8,184.2 L77,187 Z" fill="#2030ff"/><circle cx="75.9" cy="194.3" r="0.8" fill="#f02020"/><path d="M76.2,194.5 L79.6,195" stroke="#20c020" stroke-width="0.6"/>
</g>
<g id="panelD">
<polygon points="201.7,171.3 259.4,171.3 289.6,223.8 231.6,223.8" fill="#fff"/>
<ellipse cx="218.1" cy="179.9" rx="1.2" ry="0.95" fill="#1428ff"/>
<ellipse cx="221.7" cy="180.7" rx="1.2" ry="0.95" fill="#ff1414"/>
<ellipse cx="230.3" cy="183.4" rx="1.2" ry="0.95" fill="#1428ff"/>
<ellipse cx="235.3" cy="180.7" rx="1.2" ry="0.95" fill="#ff1414"/>
<ellipse cx="236.9" cy="179.1" rx="1.2" ry="0.95" fill="#1428ff"/>
<ellipse cx="212" cy="187.9" rx="1.2" ry="0.95" fill="#1428ff"/>
<ellipse cx="214.6" cy="187.9" rx="1.2" ry="0.95" fill="#ff1414"/>
<ellipse cx="217.7" cy="188.1" rx="1.2" ry="0.95" fill="#1428ff"/>
<ellipse cx="221" cy="188.1" rx="1.2" ry="0.95" fill="#ff1414"/>
<ellipse cx="223.9" cy="188.9" rx="1.2" ry="0.95" fill="#1428ff"/>
<ellipse cx="238.9" cy="192.4" rx="1.2" ry="0.95" fill="#ff1414"/>
<ellipse cx="241.7" cy="194.6" rx="1.2" ry="0.95" fill="#1428ff"/>
<ellipse cx="226.3" cy="197.9" rx="1.2" ry="0.95" fill="#ff1414"/>
<ellipse cx="229.3" cy="199.4" rx="1.2" ry="0.95" fill="#1428ff"/>
<ellipse cx="232.5" cy="200.6" rx="1.2" ry="0.95" fill="#ff1414"/>
<ellipse cx="235.2" cy="201.7" rx="1.2" ry="0.95" fill="#1428ff"/>
<ellipse cx="250.9" cy="199.4" rx="1.2" ry="0.95" fill="#ff1414"/>
<ellipse cx="254" cy="199.4" rx="1.2" ry="0.95" fill="#1428ff"/>
<ellipse cx="256.8" cy="199.6" rx="1.2" ry="0.95" fill="#ff1414"/>
<ellipse cx="255.3" cy="191.7" rx="1.2" ry="0.95" fill="#1428ff"/>
<ellipse cx="256" cy="189.8" rx="1.2" ry="0.95" fill="#ff1414"/>
<ellipse cx="241.5" cy="194.9" rx="1.2" ry="0.95" fill="#1428ff"/>
<ellipse cx="251.3" cy="202" rx="1.2" ry="0.95" fill="#ff1414"/>
<ellipse cx="252.2" cy="203.8" rx="1.2" ry="0.95" fill="#1428ff"/>
<ellipse cx="254.9" cy="206" rx="1.2" ry="0.95" fill="#ff1414"/>
<ellipse cx="238.8" cy="210.1" rx="1.2" ry="0.95" fill="#ff1414"/>
<ellipse cx="241.5" cy="211" rx="1.2" ry="0.95" fill="#1428ff"/>
<ellipse cx="245" cy="211.3" rx="1.2" ry="0.95" fill="#ff1414"/>
<ellipse cx="247.7" cy="211.9" rx="1.2" ry="0.95" fill="#1428ff"/>
<ellipse cx="250.4" cy="210.1" rx="1.2" ry="0.95" fill="#1428ff"/>
<ellipse cx="229.3" cy="214" rx="1.2" ry="0.95" fill="#ff1414"/>
<ellipse cx="232.2" cy="214.5" rx="1.2" ry="0.95" fill="#1428ff"/>
<ellipse cx="235.2" cy="214.5" rx="1.2" ry="0.95" fill="#ff1414"/>
<ellipse cx="239.1" cy="215.8" rx="1.2" ry="0.95" fill="#1428ff"/>
<ellipse cx="243.3" cy="216.3" rx="1.2" ry="0.95" fill="#ff1414"/>
<ellipse cx="246.8" cy="217.8" rx="1.2" ry="0.95" fill="#1428ff"/>
<ellipse cx="249.5" cy="214" rx="1.2" ry="0.95" fill="#ff1414"/>
<ellipse cx="250.4" cy="216.3" rx="1.2" ry="0.95" fill="#1428ff"/>
<ellipse cx="251.3" cy="218.1" rx="1.2" ry="0.95" fill="#ff1414"/>
<ellipse cx="273.6" cy="215.1" rx="1.2" ry="0.95" fill="#ff1414"/>
<ellipse cx="276.6" cy="215.1" rx="1.2" ry="0.95" fill="#1428ff"/>
<ellipse cx="279.5" cy="214.5" rx="1.2" ry="0.95" fill="#ff1414"/>
<ellipse cx="270.9" cy="222.6" rx="1.2" ry="0.95" fill="#1428ff"/>
<ellipse cx="230.4" cy="183.7" rx="1.2" ry="0.95" fill="#1428ff"/>
<ellipse cx="268.3" cy="193" rx="1.2" ry="0.95" fill="#ff1414"/>
<ellipse cx="271" cy="193.4" rx="1.2" ry="0.95" fill="#1428ff"/>
<path d="M201.7,171.3 L231.6,223.8 M259.4,171.3 L289.6,223.8" stroke="#111" stroke-width="1.25" fill="none"/>
<path d="M201.39999999999998,171.3 L259.4,171.3 M231.29999999999998,223.8 L289.90000000000003,223.8" stroke="#555" stroke-width="1" fill="none"/>
<text x="230.8" y="222.6" font-size="5.7" text-anchor="start" fill="#333" font-style="italic" font-weight="normal" font-family="Liberation Sans, sans-serif">lower</text>
<polygon points="212.9,136 269.7,136 300.2,187.8 243.3,187.8" fill="#fff"/>
<ellipse cx="229.7" cy="144.3" rx="1.2" ry="0.95" fill="#ff1414"/>
<ellipse cx="233.3" cy="145.7" rx="1.2" ry="0.95" fill="#1428ff"/>
<ellipse cx="241.9" cy="148.1" rx="1.2" ry="0.95" fill="#ff1414"/>
<ellipse cx="226.1" cy="152.1" rx="1.2" ry="0.95" fill="#1428ff"/>
<ellipse cx="229.4" cy="152.6" rx="1.2" ry="0.95" fill="#ff1414"/>
<ellipse cx="232.6" cy="152.6" rx="1.2" ry="0.95" fill="#1428ff"/>
<ellipse cx="235.7" cy="153.6" rx="1.2" ry="0.95" fill="#ff1414"/>
<ellipse cx="247.3" cy="145.7" rx="1.2" ry="0.95" fill="#1428ff"/>
<ellipse cx="248" cy="143.9" rx="1.2" ry="0.95" fill="#ff1414"/>
<ellipse cx="249.7" cy="142.6" rx="1.2" ry="0.95" fill="#1428ff"/>
<ellipse cx="251.4" cy="141.1" rx="1.2" ry="0.95" fill="#ff1414"/>
<ellipse cx="254" cy="140.3" rx="1.2" ry="0.95" fill="#1428ff"/>
<ellipse cx="254.4" cy="137.6" rx="1.2" ry="0.95" fill="#1428ff"/>
<ellipse cx="256.9" cy="140" rx="1.2" ry="0.95" fill="#ff1414"/>
<ellipse cx="260.4" cy="141" rx="1.2" ry="0.95" fill="#1428ff"/>
<ellipse cx="264" cy="142.1" rx="1.2" ry="0.95" fill="#ff1414"/>
<ellipse cx="266.9" cy="142.6" rx="1.2" ry="0.95" fill="#1428ff"/>
<ellipse cx="270.4" cy="143.1" rx="1.2" ry="0.95" fill="#ff1414"/>
<ellipse cx="273" cy="143.6" rx="1.2" ry="0.95" fill="#1428ff"/>
<ellipse cx="250.4" cy="157.1" rx="1.2" ry="0.95" fill="#1428ff"/>
<ellipse cx="253.3" cy="159.3" rx="1.2" ry="0.95" fill="#ff1414"/>
<ellipse cx="266.9" cy="154.6" rx="1.2" ry="0.95" fill="#1428ff"/>
<ellipse cx="266.9" cy="156.4" rx="1.2" ry="0.95" fill="#ff1414"/>
<ellipse cx="268.6" cy="153.6" rx="1.2" ry="0.95" fill="#ff1414"/>
<ellipse cx="270.9" cy="152.4" rx="1.2" ry="0.95" fill="#1428ff"/>
<ellipse cx="274" cy="152.4" rx="1.2" ry="0.95" fill="#ff1414"/>
<ellipse cx="277.1" cy="152.4" rx="1.2" ry="0.95" fill="#1428ff"/>
<ellipse cx="280.4" cy="158.6" rx="1.2" ry="0.95" fill="#1428ff"/>
<ellipse cx="237.6" cy="162.9" rx="1.2" ry="0.95" fill="#1428ff"/>
<ellipse cx="240.9" cy="164" rx="1.2" ry="0.95" fill="#ff1414"/>
<ellipse cx="244" cy="165.4" rx="1.2" ry="0.95" fill="#1428ff"/>
<ellipse cx="246.9" cy="166.9" rx="1.2" ry="0.95" fill="#ff1414"/>
<ellipse cx="262.3" cy="164.2" rx="1.2" ry="0.95" fill="#1428ff"/>
<ellipse cx="265.1" cy="164" rx="1.2" ry="0.95" fill="#ff1414"/>
<ellipse cx="268" cy="164" rx="1.2" ry="0.95" fill="#1428ff"/>
<ellipse cx="262.9" cy="166.6" rx="1.2" ry="0.95" fill="#ff1414"/>
<ellipse cx="264" cy="168.7" rx="1.2" ry="0.95" fill="#1428ff"/>
<ellipse cx="266.6" cy="170.6" rx="1.2" ry="0.95" fill="#ff1414"/>
<ellipse cx="250.4" cy="174" rx="1.2" ry="0.95" fill="#1428ff"/>
<ellipse cx="253.3" cy="175.4" rx="1.2" ry="0.95" fill="#ff1414"/>
<ellipse cx="256.6" cy="175.9" rx="1.2" ry="0.95" fill="#1428ff"/>
<ellipse cx="259.7" cy="176.6" rx="1.2" ry="0.95" fill="#ff1414"/>
<ellipse cx="262.3" cy="174.4" rx="1.2" ry="0.95" fill="#ff1414"/>
<ellipse cx="240.9" cy="178.7" rx="1.2" ry="0.95" fill="#1428ff"/>
<ellipse cx="244" cy="179.1" rx="1.2" ry="0.95" fill="#ff1414"/>
<ellipse cx="247.1" cy="179.4" rx="1.2" ry="0.95" fill="#ff1414"/>
<ellipse cx="251.1" cy="179.9" rx="1.2" ry="0.95" fill="#1428ff"/>
<ellipse cx="254.7" cy="180.9" rx="1.2" ry="0.95" fill="#1428ff"/>
<ellipse cx="258.3" cy="182.3" rx="1.2" ry="0.95" fill="#ff1414"/>
<ellipse cx="261.4" cy="179.1" rx="1.2" ry="0.95" fill="#1428ff"/>
<ellipse cx="262.9" cy="180.9" rx="1.2" ry="0.95" fill="#ff1414"/>
<ellipse cx="262.3" cy="183.7" rx="1.2" ry="0.95" fill="#1428ff"/>
<ellipse cx="285.5" cy="179.5" rx="1.2" ry="0.95" fill="#1428ff"/>
<ellipse cx="288.4" cy="179.2" rx="1.2" ry="0.95" fill="#ff1414"/>
<ellipse cx="291.2" cy="179" rx="1.2" ry="0.95" fill="#1428ff"/>
<ellipse cx="282.6" cy="186.6" rx="1.2" ry="0.95" fill="#ff1414"/>
<path d="M212.9,136 L243.3,187.8 M269.7,136 L300.2,187.8" stroke="#111" stroke-width="1.25" fill="none"/>
<path d="M212.6,136 L269.7,136 M243.0,187.8 L300.5,187.8" stroke="#555" stroke-width="1" fill="none"/>
<text x="242.3" y="185.2" font-size="5.7" text-anchor="start" fill="#555" font-style="italic" font-weight="normal" font-family="Liberation Sans, sans-serif">upper</text>
<rect x="290.3" y="134.3" width="3.5" height="30.8" fill="url(#cb)"/>
<text x="295.8" y="139.4" font-size="6.6" text-anchor="start" fill="#000"  stroke="#000">+1</text>
<text x="295.4" y="166.1" font-size="6.6" text-anchor="start" fill="#000"  stroke="#000">−1</text>
<text x="295.8" y="152.4" font-size="6.6" font-style="italic" text-anchor="start" stroke="#000">m<tspan font-size="4.4" dy="1.4">z</tspan></text>
<polygon points="299.6,173 356.6,173 386.4,225.2 329.3,225.2" fill="#ff0000" stroke="#222" stroke-width="0.5"/>
<g clip-path="url(#clipRed)">
<ellipse cx="335.7" cy="203.6" rx="6.8" ry="4.1" fill="url(#skB)" transform="rotate(25 335.7 203.6)"/>
<ellipse cx="363.2" cy="211.8" rx="6.8" ry="4.1" fill="url(#skB)" transform="rotate(25 363.2 211.8)"/>
<ellipse cx="300.9" cy="176.9" rx="6.8" ry="4.1" fill="url(#skB)" transform="rotate(25 300.9 176.9)"/>
</g>
<text x="328.6" y="223.2" font-size="5.7" text-anchor="start" fill="#300" font-style="italic" font-weight="normal" font-family="Liberation Sans, sans-serif">lower</text>
<polygon points="308.6,136.7 367.1,136.7 397.1,188.9 338.6,188.9" fill="#0000ff" stroke="#222" stroke-width="0.5"/>
<g clip-path="url(#clipBlue)">
<ellipse cx="345.7" cy="168" rx="6.8" ry="4.1" fill="url(#skR)" transform="rotate(25 345.7 168)"/>
<ellipse cx="374.3" cy="176.3" rx="6.8" ry="4.1" fill="url(#skR)" transform="rotate(25 374.3 176.3)"/>
<ellipse cx="310.3" cy="140.3" rx="6.8" ry="4.1" fill="url(#skR)" transform="rotate(25 310.3 140.3)"/>
<ellipse cx="366.7" cy="139.8" rx="6.8" ry="4.1" fill="url(#skR)" transform="rotate(25 366.7 139.8)"/>
</g>
<text x="338.2" y="187" font-size="5.7" text-anchor="start" fill="#003" font-style="italic" font-weight="normal" font-family="Liberation Sans, sans-serif">upper</text>
<text x="254.9" y="246.1" font-size="9.2" text-anchor="middle" fill="#000"  stroke="#000">−4%</text>
<text x="354.9" y="246.1" font-size="9.2" text-anchor="middle" fill="#000"  stroke="#000">4%</text>
</g>
</svg>
</body></html>
